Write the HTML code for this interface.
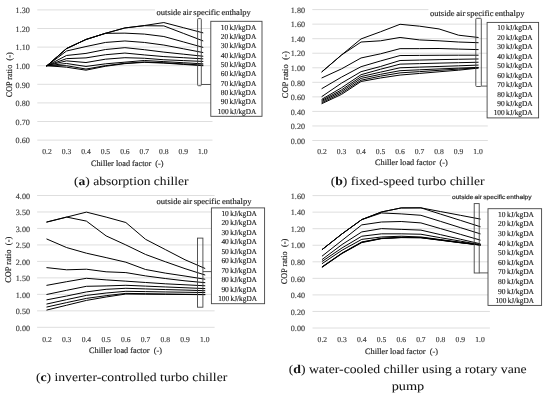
<!DOCTYPE html>
<html><head><meta charset="utf-8"><title>COP ratio charts</title>
<style>
html,body{margin:0;padding:0;background:#fff;}
body{width:550px;height:397px;overflow:hidden;}
svg{display:block;filter:blur(0.25px);}
text{font-family:'Liberation Serif', 'DejaVu Serif', serif;text-rendering:geometricPrecision;}
.lab{fill:#3a3a3a;stroke:#3a3a3a;stroke-width:0.15px;}
.ttl{fill:#2a2a2a;stroke:#2a2a2a;stroke-width:0.18px;}
.leg{fill:#222;stroke:#222;stroke-width:0.15px;word-spacing:-0.5px;}
.cap{fill:#151515;stroke:#151515;stroke-width:0.05px;}
</style></head><body>
<svg width="550" height="397" viewBox="0 0 550 397">
<rect width="550" height="397" fill="#fff"/>
<line x1="37.30" y1="9.90" x2="212.50" y2="9.90" stroke="#dedede" stroke-width="1"/>
<text x="29.80" y="13.10" text-anchor="end" font-size="8.1" textLength="14.20" lengthAdjust="spacingAndGlyphs" class="lab">1.30</text>
<line x1="37.30" y1="28.50" x2="212.50" y2="28.50" stroke="#dedede" stroke-width="1"/>
<text x="29.80" y="31.70" text-anchor="end" font-size="8.1" textLength="14.20" lengthAdjust="spacingAndGlyphs" class="lab">1.20</text>
<line x1="37.30" y1="47.10" x2="212.50" y2="47.10" stroke="#dedede" stroke-width="1"/>
<text x="29.80" y="50.30" text-anchor="end" font-size="8.1" textLength="14.20" lengthAdjust="spacingAndGlyphs" class="lab">1.10</text>
<line x1="37.30" y1="65.70" x2="212.50" y2="65.70" stroke="#dedede" stroke-width="1"/>
<text x="29.80" y="68.90" text-anchor="end" font-size="8.1" textLength="14.20" lengthAdjust="spacingAndGlyphs" class="lab">1.00</text>
<line x1="37.30" y1="84.30" x2="212.50" y2="84.30" stroke="#dedede" stroke-width="1"/>
<text x="29.80" y="87.50" text-anchor="end" font-size="8.1" textLength="14.20" lengthAdjust="spacingAndGlyphs" class="lab">0.90</text>
<line x1="37.30" y1="102.90" x2="212.50" y2="102.90" stroke="#dedede" stroke-width="1"/>
<text x="29.80" y="106.10" text-anchor="end" font-size="8.1" textLength="14.20" lengthAdjust="spacingAndGlyphs" class="lab">0.80</text>
<line x1="37.30" y1="121.50" x2="212.50" y2="121.50" stroke="#dedede" stroke-width="1"/>
<text x="29.80" y="124.70" text-anchor="end" font-size="8.1" textLength="14.20" lengthAdjust="spacingAndGlyphs" class="lab">0.70</text>
<line x1="37.30" y1="140.10" x2="212.50" y2="140.10" stroke="#dedede" stroke-width="1"/>
<text x="29.80" y="143.30" text-anchor="end" font-size="8.1" textLength="14.20" lengthAdjust="spacingAndGlyphs" class="lab">0.60</text>
<text x="47.03" y="154.10" text-anchor="middle" font-size="7.6" class="lab">0.2</text>
<text x="66.50" y="154.10" text-anchor="middle" font-size="7.6" class="lab">0.3</text>
<text x="85.97" y="154.10" text-anchor="middle" font-size="7.6" class="lab">0.4</text>
<text x="105.43" y="154.10" text-anchor="middle" font-size="7.6" class="lab">0.5</text>
<text x="124.90" y="154.10" text-anchor="middle" font-size="7.6" class="lab">0.6</text>
<text x="144.37" y="154.10" text-anchor="middle" font-size="7.6" class="lab">0.7</text>
<text x="163.83" y="154.10" text-anchor="middle" font-size="7.6" class="lab">0.8</text>
<text x="183.30" y="154.10" text-anchor="middle" font-size="7.6" class="lab">0.9</text>
<text x="202.77" y="154.10" text-anchor="middle" font-size="7.6" class="lab">1.0</text>
<text x="91.00" y="166.00" font-size="8.2" textLength="72.60" lengthAdjust="spacingAndGlyphs" class="ttl">Chiller load factor <tspan dx="2">(-)</tspan></text>
<text transform="translate(12.20,97.20) rotate(-90)" x="0" y="0" font-size="8.6" textLength="44.90" lengthAdjust="spacingAndGlyphs" class="ttl">COP ratio <tspan dx="2.5">(-)</tspan></text>
<rect x="155.00" y="6.60" width="97.30" height="9.5" fill="#fff"/>
<text x="156.50" y="14.60" font-size="8.2" textLength="94.30" lengthAdjust="spacingAndGlyphs" style="font-family:'Liberation Serif', 'DejaVu Serif', serif" class="leg">outside air specific enthalpy</text>
<polyline points="47.03,65.70 66.50,48.59 85.97,39.47 105.43,33.34 124.90,27.94 144.37,25.52 163.83,22.55 183.30,27.66 202.77,32.78" fill="none" stroke="#000" stroke-width="1.0" stroke-linejoin="round" stroke-linecap="square"/>
<polyline points="47.03,65.70 66.50,48.59 85.97,39.47 105.43,33.34 124.90,27.94 144.37,25.71 163.83,25.90 183.30,33.34 202.77,40.78" fill="none" stroke="#000" stroke-width="1.0" stroke-linejoin="round" stroke-linecap="square"/>
<polyline points="47.03,65.70 66.50,48.59 85.97,39.47 105.43,33.34 124.90,33.15 144.37,34.08 163.83,36.50 183.30,41.89 202.77,47.29" fill="none" stroke="#000" stroke-width="1.0" stroke-linejoin="round" stroke-linecap="square"/>
<polyline points="47.03,65.70 66.50,51.01 85.97,46.54 105.43,42.45 124.90,40.96 144.37,42.45 163.83,45.05 183.30,48.77 202.77,52.49" fill="none" stroke="#000" stroke-width="1.0" stroke-linejoin="round" stroke-linecap="square"/>
<polyline points="47.03,65.70 66.50,55.47 85.97,53.42 105.43,49.52 124.90,47.66 144.37,49.70 163.83,52.12 183.30,54.17 202.77,56.21" fill="none" stroke="#000" stroke-width="1.0" stroke-linejoin="round" stroke-linecap="square"/>
<polyline points="47.03,65.70 66.50,58.63 85.97,57.89 105.43,54.73 124.90,53.05 144.37,54.91 163.83,56.59 183.30,57.70 202.77,58.82" fill="none" stroke="#000" stroke-width="1.0" stroke-linejoin="round" stroke-linecap="square"/>
<polyline points="47.03,65.70 66.50,60.86 85.97,62.54 105.43,59.19 124.90,57.70 144.37,58.26 163.83,59.75 183.30,60.58 202.77,61.42" fill="none" stroke="#000" stroke-width="1.0" stroke-linejoin="round" stroke-linecap="square"/>
<polyline points="47.03,65.70 66.50,63.47 85.97,66.44 105.43,63.84 124.90,62.17 144.37,60.49 163.83,61.61 183.30,62.72 202.77,63.84" fill="none" stroke="#000" stroke-width="1.0" stroke-linejoin="round" stroke-linecap="square"/>
<polyline points="47.03,65.70 66.50,65.70 85.97,69.05 105.43,65.70 124.90,63.28 144.37,61.98 163.83,62.72 183.30,63.93 202.77,65.14" fill="none" stroke="#000" stroke-width="1.0" stroke-linejoin="round" stroke-linecap="square"/>
<polyline points="47.03,65.70 66.50,67.19 85.97,70.16 105.43,66.26 124.90,63.65 144.37,62.35 163.83,63.10 183.30,64.40 202.77,65.70" fill="none" stroke="#000" stroke-width="1.0" stroke-linejoin="round" stroke-linecap="square"/>
<rect x="197.60" y="18.60" width="3.70" height="67.10" rx="0.8" fill="none" stroke="#444" stroke-width="0.9"/>
<rect x="210.80" y="21.30" width="51.20" height="95.00" fill="#fff" stroke="#444" stroke-width="0.9"/>
<line x1="201.30" y1="84.50" x2="210.80" y2="84.50" stroke="#444" stroke-width="0.9"/>
<text x="256.30" y="29.80" text-anchor="end" font-size="7.6" textLength="35.60" lengthAdjust="spacingAndGlyphs" class="leg">10 kJ/kgDA</text>
<text x="256.30" y="39.10" text-anchor="end" font-size="7.6" textLength="35.60" lengthAdjust="spacingAndGlyphs" class="leg">20 kJ/kgDA</text>
<text x="256.30" y="48.40" text-anchor="end" font-size="7.6" textLength="35.60" lengthAdjust="spacingAndGlyphs" class="leg">30 kJ/kgDA</text>
<text x="256.30" y="57.70" text-anchor="end" font-size="7.6" textLength="35.60" lengthAdjust="spacingAndGlyphs" class="leg">40 kJ/kgDA</text>
<text x="256.30" y="67.00" text-anchor="end" font-size="7.6" textLength="35.60" lengthAdjust="spacingAndGlyphs" class="leg">50 kJ/kgDA</text>
<text x="256.30" y="76.30" text-anchor="end" font-size="7.6" textLength="35.60" lengthAdjust="spacingAndGlyphs" class="leg">60 kJ/kgDA</text>
<text x="256.30" y="85.60" text-anchor="end" font-size="7.6" textLength="35.60" lengthAdjust="spacingAndGlyphs" class="leg">70 kJ/kgDA</text>
<text x="256.30" y="94.90" text-anchor="end" font-size="7.6" textLength="35.60" lengthAdjust="spacingAndGlyphs" class="leg">80 kJ/kgDA</text>
<text x="256.30" y="104.20" text-anchor="end" font-size="7.6" textLength="35.60" lengthAdjust="spacingAndGlyphs" class="leg">90 kJ/kgDA</text>
<text x="256.30" y="113.50" text-anchor="end" font-size="7.6" textLength="38.60" lengthAdjust="spacingAndGlyphs" class="leg">100 kJ/kgDA</text>
<line x1="312.30" y1="9.60" x2="487.80" y2="9.60" stroke="#dedede" stroke-width="1"/>
<text x="305.00" y="12.80" text-anchor="end" font-size="8.1" textLength="14.20" lengthAdjust="spacingAndGlyphs" class="lab">1.80</text>
<line x1="312.30" y1="24.14" x2="487.80" y2="24.14" stroke="#dedede" stroke-width="1"/>
<text x="305.00" y="27.34" text-anchor="end" font-size="8.1" textLength="14.20" lengthAdjust="spacingAndGlyphs" class="lab">1.60</text>
<line x1="312.30" y1="38.69" x2="487.80" y2="38.69" stroke="#dedede" stroke-width="1"/>
<text x="305.00" y="41.89" text-anchor="end" font-size="8.1" textLength="14.20" lengthAdjust="spacingAndGlyphs" class="lab">1.40</text>
<line x1="312.30" y1="53.23" x2="487.80" y2="53.23" stroke="#dedede" stroke-width="1"/>
<text x="305.00" y="56.43" text-anchor="end" font-size="8.1" textLength="14.20" lengthAdjust="spacingAndGlyphs" class="lab">1.20</text>
<line x1="312.30" y1="67.78" x2="487.80" y2="67.78" stroke="#dedede" stroke-width="1"/>
<text x="305.00" y="70.98" text-anchor="end" font-size="8.1" textLength="14.20" lengthAdjust="spacingAndGlyphs" class="lab">1.00</text>
<line x1="312.30" y1="82.32" x2="487.80" y2="82.32" stroke="#dedede" stroke-width="1"/>
<text x="305.00" y="85.52" text-anchor="end" font-size="8.1" textLength="14.20" lengthAdjust="spacingAndGlyphs" class="lab">0.80</text>
<line x1="312.30" y1="96.87" x2="487.80" y2="96.87" stroke="#dedede" stroke-width="1"/>
<text x="305.00" y="100.07" text-anchor="end" font-size="8.1" textLength="14.20" lengthAdjust="spacingAndGlyphs" class="lab">0.60</text>
<line x1="312.30" y1="111.41" x2="487.80" y2="111.41" stroke="#dedede" stroke-width="1"/>
<text x="305.00" y="114.61" text-anchor="end" font-size="8.1" textLength="14.20" lengthAdjust="spacingAndGlyphs" class="lab">0.40</text>
<line x1="312.30" y1="125.96" x2="487.80" y2="125.96" stroke="#dedede" stroke-width="1"/>
<text x="305.00" y="129.16" text-anchor="end" font-size="8.1" textLength="14.20" lengthAdjust="spacingAndGlyphs" class="lab">0.20</text>
<line x1="312.30" y1="140.50" x2="487.80" y2="140.50" stroke="#dedede" stroke-width="1"/>
<text x="305.00" y="143.70" text-anchor="end" font-size="8.1" textLength="14.20" lengthAdjust="spacingAndGlyphs" class="lab">0.00</text>
<text x="322.05" y="154.20" text-anchor="middle" font-size="7.6" class="lab">0.2</text>
<text x="341.55" y="154.20" text-anchor="middle" font-size="7.6" class="lab">0.3</text>
<text x="361.05" y="154.20" text-anchor="middle" font-size="7.6" class="lab">0.4</text>
<text x="380.55" y="154.20" text-anchor="middle" font-size="7.6" class="lab">0.5</text>
<text x="400.05" y="154.20" text-anchor="middle" font-size="7.6" class="lab">0.6</text>
<text x="419.55" y="154.20" text-anchor="middle" font-size="7.6" class="lab">0.7</text>
<text x="439.05" y="154.20" text-anchor="middle" font-size="7.6" class="lab">0.8</text>
<text x="458.55" y="154.20" text-anchor="middle" font-size="7.6" class="lab">0.9</text>
<text x="478.05" y="154.20" text-anchor="middle" font-size="7.6" class="lab">1.0</text>
<text x="375.00" y="165.20" font-size="8.2" textLength="72.80" lengthAdjust="spacingAndGlyphs" class="ttl">Chiller load factor <tspan dx="2">(-)</tspan></text>
<text transform="translate(288.30,98.30) rotate(-90)" x="0" y="0" font-size="8.6" textLength="47.10" lengthAdjust="spacingAndGlyphs" class="ttl">COP ratio <tspan dx="2.5">(-)</tspan></text>
<rect x="428.40" y="8.10" width="97.60" height="9.5" fill="#fff"/>
<text x="429.90" y="16.10" font-size="8.2" textLength="94.60" lengthAdjust="spacingAndGlyphs" style="font-family:'Liberation Serif', 'DejaVu Serif', serif" class="leg">outside air specific enthalpy</text>
<polyline points="322.05,71.70 341.55,54.98 361.05,38.91 380.55,31.78 400.05,24.29 419.55,26.18 439.05,28.94 458.55,35.20 478.05,37.45" fill="none" stroke="#000" stroke-width="1.0" stroke-linejoin="round" stroke-linecap="square"/>
<polyline points="322.05,71.70 341.55,54.98 361.05,42.03 380.55,40.80 400.05,37.45 419.55,39.93 439.05,40.80 458.55,42.03 478.05,42.69" fill="none" stroke="#000" stroke-width="1.0" stroke-linejoin="round" stroke-linecap="square"/>
<polyline points="322.05,77.81 341.55,68.87 361.05,57.96 380.55,53.82 400.05,48.65 419.55,48.65 439.05,48.51 458.55,49.09 478.05,49.60" fill="none" stroke="#000" stroke-width="1.0" stroke-linejoin="round" stroke-linecap="square"/>
<polyline points="322.05,88.50 341.55,77.09 361.05,66.69 380.55,60.94 400.05,55.56 419.55,55.42 439.05,55.27 458.55,55.20 478.05,55.20" fill="none" stroke="#000" stroke-width="1.0" stroke-linejoin="round" stroke-linecap="square"/>
<polyline points="322.05,96.43 341.55,83.12 361.05,71.70 380.55,66.47 400.05,60.51 419.55,60.07 439.05,59.63 458.55,59.27 478.05,58.98" fill="none" stroke="#000" stroke-width="1.0" stroke-linejoin="round" stroke-linecap="square"/>
<polyline points="322.05,99.19 341.55,87.78 361.05,74.69 380.55,69.23 400.05,64.14 419.55,63.63 439.05,63.12 458.55,62.69 478.05,62.25" fill="none" stroke="#000" stroke-width="1.0" stroke-linejoin="round" stroke-linecap="square"/>
<polyline points="322.05,100.28 341.55,89.89 361.05,76.58 380.55,72.14 400.05,67.78 419.55,67.12 439.05,66.47 458.55,65.81 478.05,65.09" fill="none" stroke="#000" stroke-width="1.0" stroke-linejoin="round" stroke-linecap="square"/>
<polyline points="322.05,101.38 341.55,91.41 361.05,78.40 380.55,74.32 400.05,70.69 419.55,69.81 439.05,68.94 458.55,68.14 478.05,67.41" fill="none" stroke="#000" stroke-width="1.0" stroke-linejoin="round" stroke-linecap="square"/>
<polyline points="322.05,102.54 341.55,92.94 361.05,80.21 380.55,76.14 400.05,72.87 419.55,71.63 439.05,70.32 458.55,69.09 478.05,67.78" fill="none" stroke="#000" stroke-width="1.0" stroke-linejoin="round" stroke-linecap="square"/>
<polyline points="322.05,103.56 341.55,94.39 361.05,81.52 380.55,77.96 400.05,75.05 419.55,73.45 439.05,71.78 458.55,70.18 478.05,68.14" fill="none" stroke="#000" stroke-width="1.0" stroke-linejoin="round" stroke-linecap="square"/>
<rect x="475.80" y="18.30" width="5.50" height="68.20" rx="0.8" fill="none" stroke="#444" stroke-width="0.9"/>
<rect x="487.10" y="22.40" width="51.50" height="95.50" fill="#fff" stroke="#444" stroke-width="0.9"/>
<line x1="481.30" y1="86.10" x2="487.10" y2="86.10" stroke="#444" stroke-width="0.9"/>
<text x="532.60" y="30.40" text-anchor="end" font-size="7.6" textLength="35.40" lengthAdjust="spacingAndGlyphs" class="leg">10 kJ/kgDA</text>
<text x="532.60" y="39.85" text-anchor="end" font-size="7.6" textLength="35.40" lengthAdjust="spacingAndGlyphs" class="leg">20 kJ/kgDA</text>
<text x="532.60" y="49.30" text-anchor="end" font-size="7.6" textLength="35.40" lengthAdjust="spacingAndGlyphs" class="leg">30 kJ/kgDA</text>
<text x="532.60" y="58.75" text-anchor="end" font-size="7.6" textLength="35.40" lengthAdjust="spacingAndGlyphs" class="leg">40 kJ/kgDA</text>
<text x="532.60" y="68.20" text-anchor="end" font-size="7.6" textLength="35.40" lengthAdjust="spacingAndGlyphs" class="leg">50 kJ/kgDA</text>
<text x="532.60" y="77.65" text-anchor="end" font-size="7.6" textLength="35.40" lengthAdjust="spacingAndGlyphs" class="leg">60 kJ/kgDA</text>
<text x="532.60" y="87.10" text-anchor="end" font-size="7.6" textLength="35.40" lengthAdjust="spacingAndGlyphs" class="leg">70 kJ/kgDA</text>
<text x="532.60" y="96.55" text-anchor="end" font-size="7.6" textLength="35.40" lengthAdjust="spacingAndGlyphs" class="leg">80 kJ/kgDA</text>
<text x="532.60" y="106.00" text-anchor="end" font-size="7.6" textLength="35.40" lengthAdjust="spacingAndGlyphs" class="leg">90 kJ/kgDA</text>
<text x="532.60" y="115.45" text-anchor="end" font-size="7.6" textLength="38.90" lengthAdjust="spacingAndGlyphs" class="leg">100 kJ/kgDA</text>
<line x1="37.10" y1="195.50" x2="214.60" y2="195.50" stroke="#dedede" stroke-width="1"/>
<text x="30.00" y="198.70" text-anchor="end" font-size="8.1" textLength="14.20" lengthAdjust="spacingAndGlyphs" class="lab">4.00</text>
<line x1="37.10" y1="211.97" x2="214.60" y2="211.97" stroke="#dedede" stroke-width="1"/>
<text x="30.00" y="215.17" text-anchor="end" font-size="8.1" textLength="14.20" lengthAdjust="spacingAndGlyphs" class="lab">3.50</text>
<line x1="37.10" y1="228.45" x2="214.60" y2="228.45" stroke="#dedede" stroke-width="1"/>
<text x="30.00" y="231.65" text-anchor="end" font-size="8.1" textLength="14.20" lengthAdjust="spacingAndGlyphs" class="lab">3.00</text>
<line x1="37.10" y1="244.93" x2="214.60" y2="244.93" stroke="#dedede" stroke-width="1"/>
<text x="30.00" y="248.12" text-anchor="end" font-size="8.1" textLength="14.20" lengthAdjust="spacingAndGlyphs" class="lab">2.50</text>
<line x1="37.10" y1="261.40" x2="214.60" y2="261.40" stroke="#dedede" stroke-width="1"/>
<text x="30.00" y="264.60" text-anchor="end" font-size="8.1" textLength="14.20" lengthAdjust="spacingAndGlyphs" class="lab">2.00</text>
<line x1="37.10" y1="277.88" x2="214.60" y2="277.88" stroke="#dedede" stroke-width="1"/>
<text x="30.00" y="281.07" text-anchor="end" font-size="8.1" textLength="14.20" lengthAdjust="spacingAndGlyphs" class="lab">1.50</text>
<line x1="37.10" y1="294.35" x2="214.60" y2="294.35" stroke="#dedede" stroke-width="1"/>
<text x="30.00" y="297.55" text-anchor="end" font-size="8.1" textLength="14.20" lengthAdjust="spacingAndGlyphs" class="lab">1.00</text>
<line x1="37.10" y1="310.83" x2="214.60" y2="310.83" stroke="#dedede" stroke-width="1"/>
<text x="30.00" y="314.03" text-anchor="end" font-size="8.1" textLength="14.20" lengthAdjust="spacingAndGlyphs" class="lab">0.50</text>
<line x1="37.10" y1="327.30" x2="214.60" y2="327.30" stroke="#dedede" stroke-width="1"/>
<text x="30.00" y="330.50" text-anchor="end" font-size="8.1" textLength="14.20" lengthAdjust="spacingAndGlyphs" class="lab">0.00</text>
<text x="46.96" y="341.80" text-anchor="middle" font-size="7.6" class="lab">0.2</text>
<text x="66.68" y="341.80" text-anchor="middle" font-size="7.6" class="lab">0.3</text>
<text x="86.41" y="341.80" text-anchor="middle" font-size="7.6" class="lab">0.4</text>
<text x="106.13" y="341.80" text-anchor="middle" font-size="7.6" class="lab">0.5</text>
<text x="125.85" y="341.80" text-anchor="middle" font-size="7.6" class="lab">0.6</text>
<text x="145.57" y="341.80" text-anchor="middle" font-size="7.6" class="lab">0.7</text>
<text x="165.29" y="341.80" text-anchor="middle" font-size="7.6" class="lab">0.8</text>
<text x="185.02" y="341.80" text-anchor="middle" font-size="7.6" class="lab">0.9</text>
<text x="204.74" y="341.80" text-anchor="middle" font-size="7.6" class="lab">1.0</text>
<text x="89.00" y="353.40" font-size="8.2" textLength="72.90" lengthAdjust="spacingAndGlyphs" class="ttl">Chiller load factor <tspan dx="2">(-)</tspan></text>
<text transform="translate(11.40,282.80) rotate(-90)" x="0" y="0" font-size="8.6" textLength="46.00" lengthAdjust="spacingAndGlyphs" class="ttl">COP ratio <tspan dx="2.5">(-)</tspan></text>
<rect x="155.00" y="196.30" width="98.10" height="9.5" fill="#fff"/>
<text x="156.50" y="204.30" font-size="8.2" textLength="95.10" lengthAdjust="spacingAndGlyphs" style="font-family:'Liberation Serif', 'DejaVu Serif', serif" class="leg">outside air specific enthalpy</text>
<polyline points="46.96,221.99 66.68,217.08 86.41,212.11 106.13,217.08 125.85,222.52 145.57,239.32 165.29,249.54 185.02,259.75 204.74,268.32" fill="none" stroke="#000" stroke-width="1.0" stroke-linejoin="round" stroke-linecap="square"/>
<polyline points="46.96,221.99 66.68,217.08 86.41,221.10 106.13,235.90 125.85,244.93 145.57,254.48 165.29,261.73 185.02,268.65 204.74,274.91" fill="none" stroke="#000" stroke-width="1.0" stroke-linejoin="round" stroke-linecap="square"/>
<polyline points="46.96,239.09 66.68,247.59 86.41,253.20 106.13,257.61 125.85,262.19 145.57,269.51 165.29,273.10 185.02,276.06 204.74,279.19" fill="none" stroke="#000" stroke-width="1.0" stroke-linejoin="round" stroke-linecap="square"/>
<polyline points="46.96,267.66 66.68,269.80 86.41,269.21 106.13,271.81 125.85,272.60 145.57,275.90 165.29,278.53 185.02,280.84 204.74,282.65" fill="none" stroke="#000" stroke-width="1.0" stroke-linejoin="round" stroke-linecap="square"/>
<polyline points="46.96,285.29 66.68,281.70 86.41,278.30 106.13,279.88 125.85,281.17 145.57,282.49 165.29,283.81 185.02,284.79 204.74,285.78" fill="none" stroke="#000" stroke-width="1.0" stroke-linejoin="round" stroke-linecap="square"/>
<polyline points="46.96,294.42 66.68,290.30 86.41,286.31 106.13,285.91 125.85,285.29 145.57,286.11 165.29,286.94 185.02,287.76 204.74,288.58" fill="none" stroke="#000" stroke-width="1.0" stroke-linejoin="round" stroke-linecap="square"/>
<polyline points="46.96,299.79 66.68,296.00 86.41,291.91 106.13,289.31 125.85,288.29 145.57,288.91 165.29,289.57 185.02,290.07 204.74,290.73" fill="none" stroke="#000" stroke-width="1.0" stroke-linejoin="round" stroke-linecap="square"/>
<polyline points="46.96,304.00 66.68,299.62 86.41,295.40 106.13,293.03 125.85,291.29 145.57,291.62 165.29,291.94 185.02,292.24 204.74,292.54" fill="none" stroke="#000" stroke-width="1.0" stroke-linejoin="round" stroke-linecap="square"/>
<polyline points="46.96,307.00 66.68,302.59 86.41,298.40 106.13,295.67 125.85,293.39 145.57,293.69 165.29,294.02 185.02,294.28 204.74,294.51" fill="none" stroke="#000" stroke-width="1.0" stroke-linejoin="round" stroke-linecap="square"/>
<polyline points="46.96,310.00 66.68,305.22 86.41,300.41 106.13,296.99 125.85,294.02 145.57,294.19 165.29,294.35 185.02,294.51 204.74,294.68" fill="none" stroke="#000" stroke-width="1.0" stroke-linejoin="round" stroke-linecap="square"/>
<rect x="197.50" y="238.10" width="5.40" height="69.10" rx="0" fill="none" stroke="#444" stroke-width="0.9"/>
<rect x="211.40" y="207.90" width="53.20" height="95.80" fill="#fff" stroke="#444" stroke-width="0.9"/>
<line x1="202.90" y1="271.60" x2="211.40" y2="271.60" stroke="#444" stroke-width="0.9"/>
<text x="257.00" y="215.80" text-anchor="end" font-size="7.6" textLength="35.60" lengthAdjust="spacingAndGlyphs" class="leg">10 kJ/kgDA</text>
<text x="257.00" y="225.30" text-anchor="end" font-size="7.6" textLength="35.60" lengthAdjust="spacingAndGlyphs" class="leg">20 kJ/kgDA</text>
<text x="257.00" y="234.80" text-anchor="end" font-size="7.6" textLength="35.60" lengthAdjust="spacingAndGlyphs" class="leg">30 kJ/kgDA</text>
<text x="257.00" y="244.30" text-anchor="end" font-size="7.6" textLength="35.60" lengthAdjust="spacingAndGlyphs" class="leg">40 kJ/kgDA</text>
<text x="257.00" y="253.80" text-anchor="end" font-size="7.6" textLength="35.60" lengthAdjust="spacingAndGlyphs" class="leg">50 kJ/kgDA</text>
<text x="257.00" y="263.30" text-anchor="end" font-size="7.6" textLength="35.60" lengthAdjust="spacingAndGlyphs" class="leg">60 kJ/kgDA</text>
<text x="257.00" y="272.80" text-anchor="end" font-size="7.6" textLength="35.60" lengthAdjust="spacingAndGlyphs" class="leg">70 kJ/kgDA</text>
<text x="257.00" y="282.30" text-anchor="end" font-size="7.6" textLength="35.60" lengthAdjust="spacingAndGlyphs" class="leg">80 kJ/kgDA</text>
<text x="257.00" y="291.80" text-anchor="end" font-size="7.6" textLength="35.60" lengthAdjust="spacingAndGlyphs" class="leg">90 kJ/kgDA</text>
<text x="257.00" y="301.30" text-anchor="end" font-size="7.6" textLength="38.80" lengthAdjust="spacingAndGlyphs" class="leg">100 kJ/kgDA</text>
<line x1="312.50" y1="195.60" x2="489.90" y2="195.60" stroke="#dedede" stroke-width="1"/>
<text x="305.00" y="198.80" text-anchor="end" font-size="8.1" textLength="14.20" lengthAdjust="spacingAndGlyphs" class="lab">1.60</text>
<line x1="312.50" y1="212.15" x2="489.90" y2="212.15" stroke="#dedede" stroke-width="1"/>
<text x="305.00" y="215.35" text-anchor="end" font-size="8.1" textLength="14.20" lengthAdjust="spacingAndGlyphs" class="lab">1.40</text>
<line x1="312.50" y1="228.70" x2="489.90" y2="228.70" stroke="#dedede" stroke-width="1"/>
<text x="305.00" y="231.90" text-anchor="end" font-size="8.1" textLength="14.20" lengthAdjust="spacingAndGlyphs" class="lab">1.20</text>
<line x1="312.50" y1="245.25" x2="489.90" y2="245.25" stroke="#dedede" stroke-width="1"/>
<text x="305.00" y="248.45" text-anchor="end" font-size="8.1" textLength="14.20" lengthAdjust="spacingAndGlyphs" class="lab">1.00</text>
<line x1="312.50" y1="261.80" x2="489.90" y2="261.80" stroke="#dedede" stroke-width="1"/>
<text x="305.00" y="265.00" text-anchor="end" font-size="8.1" textLength="14.20" lengthAdjust="spacingAndGlyphs" class="lab">0.80</text>
<line x1="312.50" y1="278.35" x2="489.90" y2="278.35" stroke="#dedede" stroke-width="1"/>
<text x="305.00" y="281.55" text-anchor="end" font-size="8.1" textLength="14.20" lengthAdjust="spacingAndGlyphs" class="lab">0.60</text>
<line x1="312.50" y1="294.90" x2="489.90" y2="294.90" stroke="#dedede" stroke-width="1"/>
<text x="305.00" y="298.10" text-anchor="end" font-size="8.1" textLength="14.20" lengthAdjust="spacingAndGlyphs" class="lab">0.40</text>
<line x1="312.50" y1="311.45" x2="489.90" y2="311.45" stroke="#dedede" stroke-width="1"/>
<text x="305.00" y="314.65" text-anchor="end" font-size="8.1" textLength="14.20" lengthAdjust="spacingAndGlyphs" class="lab">0.20</text>
<line x1="312.50" y1="328.00" x2="489.90" y2="328.00" stroke="#dedede" stroke-width="1"/>
<text x="305.00" y="331.20" text-anchor="end" font-size="8.1" textLength="14.20" lengthAdjust="spacingAndGlyphs" class="lab">0.00</text>
<text x="322.36" y="342.00" text-anchor="middle" font-size="7.6" class="lab">0.2</text>
<text x="342.07" y="342.00" text-anchor="middle" font-size="7.6" class="lab">0.3</text>
<text x="361.78" y="342.00" text-anchor="middle" font-size="7.6" class="lab">0.4</text>
<text x="381.49" y="342.00" text-anchor="middle" font-size="7.6" class="lab">0.5</text>
<text x="401.20" y="342.00" text-anchor="middle" font-size="7.6" class="lab">0.6</text>
<text x="420.91" y="342.00" text-anchor="middle" font-size="7.6" class="lab">0.7</text>
<text x="440.62" y="342.00" text-anchor="middle" font-size="7.6" class="lab">0.8</text>
<text x="460.33" y="342.00" text-anchor="middle" font-size="7.6" class="lab">0.9</text>
<text x="480.04" y="342.00" text-anchor="middle" font-size="7.6" class="lab">1.0</text>
<text x="365.00" y="353.60" font-size="8.2" textLength="73.00" lengthAdjust="spacingAndGlyphs" class="ttl">Chiller load factor <tspan dx="2">(-)</tspan></text>
<text transform="translate(286.70,284.30) rotate(-90)" x="0" y="0" font-size="8.6" textLength="45.60" lengthAdjust="spacingAndGlyphs" class="ttl">COP ratio <tspan dx="2.5">(-)</tspan></text>
<rect x="450.50" y="190.80" width="82.60" height="9.5" fill="#fff"/>
<text x="452.00" y="198.80" font-size="6.0" textLength="79.60" lengthAdjust="spacingAndGlyphs" style="font-family:'Liberation Sans', 'DejaVu Sans', sans-serif" class="leg">outside air specific enthalpy</text>
<polyline points="322.36,249.39 342.07,233.83 361.78,219.60 381.49,211.98 401.20,207.93 420.91,207.85 440.62,211.57 460.33,215.29 480.04,219.02" fill="none" stroke="#000" stroke-width="1.0" stroke-linejoin="round" stroke-linecap="square"/>
<polyline points="322.36,249.39 342.07,233.83 361.78,219.60 381.49,211.98 401.20,207.93 420.91,207.85 440.62,214.14 460.33,220.34 480.04,226.63" fill="none" stroke="#000" stroke-width="1.0" stroke-linejoin="round" stroke-linecap="square"/>
<polyline points="322.36,249.39 342.07,233.83 361.78,219.60 381.49,212.98 401.20,213.89 420.91,215.29 440.62,221.42 460.33,227.62 480.04,233.75" fill="none" stroke="#000" stroke-width="1.0" stroke-linejoin="round" stroke-linecap="square"/>
<polyline points="322.36,255.92 342.07,240.37 361.78,224.89 381.49,222.00 401.20,221.50 420.91,222.91 440.62,228.62 460.33,234.33 480.04,240.04" fill="none" stroke="#000" stroke-width="1.0" stroke-linejoin="round" stroke-linecap="square"/>
<polyline points="322.36,259.32 342.07,244.51 361.78,231.93 381.49,228.62 401.20,229.36 420.91,230.11 440.62,234.66 460.33,239.21 480.04,243.76" fill="none" stroke="#000" stroke-width="1.0" stroke-linejoin="round" stroke-linecap="square"/>
<polyline points="322.36,261.22 342.07,247.90 361.78,236.23 381.49,233.83 401.20,233.83 420.91,234.24 440.62,237.72 460.33,241.11 480.04,244.59" fill="none" stroke="#000" stroke-width="1.0" stroke-linejoin="round" stroke-linecap="square"/>
<polyline points="322.36,263.45 342.07,250.22 361.78,239.37 381.49,236.97 401.20,236.23 420.91,236.97 440.62,239.62 460.33,242.27 480.04,244.84" fill="none" stroke="#000" stroke-width="1.0" stroke-linejoin="round" stroke-linecap="square"/>
<polyline points="322.36,266.60 342.07,253.03 361.78,241.94 381.49,238.30 401.20,237.31 420.91,237.47 440.62,239.95 460.33,242.52 480.04,244.92" fill="none" stroke="#000" stroke-width="1.0" stroke-linejoin="round" stroke-linecap="square"/>
<polyline points="322.36,266.85 342.07,253.28 361.78,242.27 381.49,238.46 401.20,237.47 420.91,237.64 440.62,240.12 460.33,242.68 480.04,245.00" fill="none" stroke="#000" stroke-width="1.0" stroke-linejoin="round" stroke-linecap="square"/>
<polyline points="322.36,267.10 342.07,253.53 361.78,242.60 381.49,238.63 401.20,237.64 420.91,237.80 440.62,240.28 460.33,242.77 480.04,245.08" fill="none" stroke="#000" stroke-width="1.0" stroke-linejoin="round" stroke-linecap="square"/>
<rect x="474.20" y="203.60" width="5.00" height="69.40" rx="0" fill="none" stroke="#444" stroke-width="0.9"/>
<rect x="488.00" y="208.70" width="53.60" height="96.70" fill="#fff" stroke="#444" stroke-width="0.9"/>
<line x1="479.20" y1="272.90" x2="488.00" y2="272.90" stroke="#444" stroke-width="0.9"/>
<text x="534.00" y="216.70" text-anchor="end" font-size="7.6" textLength="36.00" lengthAdjust="spacingAndGlyphs" class="leg">10 kJ/kgDA</text>
<text x="534.00" y="226.30" text-anchor="end" font-size="7.6" textLength="36.00" lengthAdjust="spacingAndGlyphs" class="leg">20 kJ/kgDA</text>
<text x="534.00" y="235.90" text-anchor="end" font-size="7.6" textLength="36.00" lengthAdjust="spacingAndGlyphs" class="leg">30 kJ/kgDA</text>
<text x="534.00" y="245.50" text-anchor="end" font-size="7.6" textLength="36.00" lengthAdjust="spacingAndGlyphs" class="leg">40 kJ/kgDA</text>
<text x="534.00" y="255.10" text-anchor="end" font-size="7.6" textLength="36.00" lengthAdjust="spacingAndGlyphs" class="leg">50 kJ/kgDA</text>
<text x="534.00" y="264.70" text-anchor="end" font-size="7.6" textLength="36.00" lengthAdjust="spacingAndGlyphs" class="leg">60 kJ/kgDA</text>
<text x="534.00" y="274.30" text-anchor="end" font-size="7.6" textLength="36.00" lengthAdjust="spacingAndGlyphs" class="leg">70 kJ/kgDA</text>
<text x="534.00" y="283.90" text-anchor="end" font-size="7.6" textLength="36.00" lengthAdjust="spacingAndGlyphs" class="leg">80 kJ/kgDA</text>
<text x="534.00" y="293.50" text-anchor="end" font-size="7.6" textLength="36.00" lengthAdjust="spacingAndGlyphs" class="leg">90 kJ/kgDA</text>
<text x="534.00" y="303.10" text-anchor="end" font-size="7.6" textLength="38.60" lengthAdjust="spacingAndGlyphs" class="leg">100 kJ/kgDA</text>
<text x="74.0" y="184.8" font-size="12" textLength="114.5" lengthAdjust="spacingAndGlyphs" class="cap">(<tspan font-weight="bold">a</tspan>) absorption chiller</text>
<text x="330.7" y="184.7" font-size="12" textLength="153.8" lengthAdjust="spacingAndGlyphs" class="cap">(<tspan font-weight="bold">b</tspan>) fixed-speed turbo chiller</text>
<text x="35.9" y="381.4" font-size="12" textLength="191.4" lengthAdjust="spacingAndGlyphs" class="cap">(<tspan font-weight="bold">c</tspan>) inverter-controlled turbo chiller</text>
<text x="288.7" y="372.5" font-size="12" textLength="238.0" lengthAdjust="spacingAndGlyphs" class="cap">(<tspan font-weight="bold">d</tspan>) water-cooled chiller using a rotary vane</text>
<text x="391.7" y="389.5" font-size="12" textLength="32.6" lengthAdjust="spacingAndGlyphs" class="cap">pump</text>
</svg>
</body></html>
